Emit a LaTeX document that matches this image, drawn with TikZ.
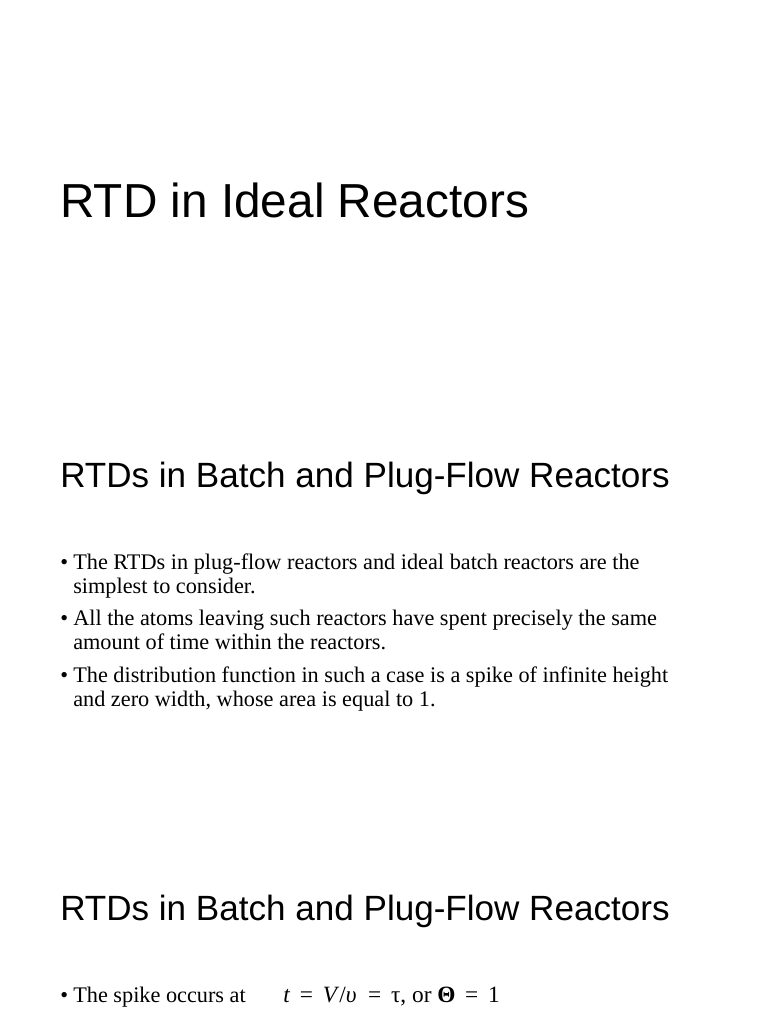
\documentclass[tikz,border=0pt]{standalone}
\usepackage{fontspec}
\setmainfont{Liberation Serif}
\newfontfamily\arial{Liberation Sans}
\begin{document}
\begin{tikzpicture}[x=0.75pt,y=-0.75pt,
  title/.style={anchor=base west,inner sep=0pt,font=\arial\fontsize{35.8}{44}\selectfont},
  head/.style={anchor=base west,inner sep=0pt,font=\arial\fontsize{26.3}{31}\selectfont},
  body/.style={anchor=base west,inner sep=0pt,font=\fontsize{16.7}{20}\selectfont},
  form/.style={anchor=base west,inner sep=0pt,font=\fontsize{17.5}{22}\selectfont}]
\useasboundingbox[fill=white] (0,0) rectangle (768,1024);
\node[title] (t) at (60,217) {RTD in Ideal Reactors};
\node[head] (h1) at (60,487) {RTDs in Batch and Plug-Flow Reactors};
\node[body] (b1) at (60,569) {\textbullet};
\node[body] (l1) at (73,569) {The RTDs in plug-flow reactors and ideal batch reactors are the};
\node[body] (l2) at (73,593) {simplest to consider.};
\node[body] (b2) at (60,625) {\textbullet};
\node[body] (l3) at (73,625) {All the atoms leaving such reactors have spent precisely the same};
\node[body] (l4) at (73,649) {amount of time within the reactors.};
\node[body] (b3) at (60,682) {\textbullet};
\node[body] (l5) at (73,682) {The distribution function in such a case is a spike of infinite height};
\node[body] (l6) at (73,706) {and zero width, whose area is equal to 1.};
\node[head] (h2) at (60,920) {RTDs in Batch and Plug-Flow Reactors};
\node[body] (b4) at (60,1002) {\textbullet};
\node[body] (l7) at (73,1002) {The spike occurs at};
\node[form] (f1) at (283,1002) {\textit{t}\, =\, \textit{V}/\textit{υ}\ \ =\, τ, or \textbf{Θ}\, =\, 1};
\end{tikzpicture}
\end{document}
